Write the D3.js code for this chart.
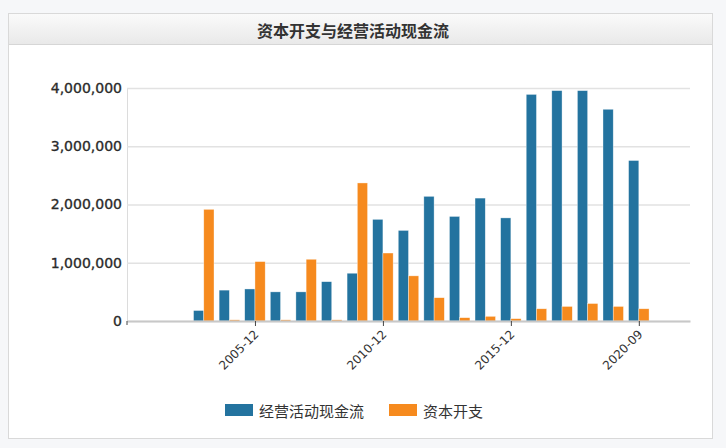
<!DOCTYPE html>
<html>
<head>
<meta charset="utf-8">
<script src="https://cdn.jsdelivr.net/npm/d3@7"></script>
<style>
  html, body { margin: 0; padding: 0; background: #f6f7f9; }
  svg { display: block; }
</style>
</head>
<body>
<div id="chart"></div>
<script>
// categories (x axis), first three years have no data
var categories = ["2000-12","2001-12","2002-12","2003-12","2004-12","2005-12","2006-12","2007-12",
  "2008-12","2009-12","2010-12","2011-12","2012-12","2013-12","2014-12","2015-12",
  "2016-12","2017-12","2018-12","2019-12","2020-09"];
var opCashFlow = [null,null,null,180000,530000,550000,500000,500000,675000,820000,
  1745000,1555000,2140000,1795000,2110000,1770000,3890000,3955000,3955000,3635000,2755000];
var capex = [null,null,null,1917000,20000,1020000,20000,1060000,20000,2370000,
  1167000,775000,400000,57000,80000,40000,210000,250000,300000,250000,210000];
var seriesNames = ["经营活动现金流", "资本开支"];
var seriesColors = ["#23739f", "#f68a1e"];
var yTicks = [0, 1000000, 2000000, 3000000, 4000000];
var labelEvery = 5;

var width = 726;
var height = 448;
var plot = {left: 127, right: 690, top: 88, bottom: 321};

function buildChart(){
  var svg = d3.select("#chart").append("svg")
      .attr("width", width)
      .attr("height", height);

  var defs = svg.append("defs");
  var grad = defs.append("linearGradient")
      .attr("id", "titleGrad")
      .attr("x1", 0).attr("y1", 0).attr("x2", 0).attr("y2", 1);
  grad.append("stop").attr("offset", "0%").attr("stop-color", "#fafafa");
  grad.append("stop").attr("offset", "100%").attr("stop-color", "#e9e9e9");

  // panel
  svg.append("rect")
      .attr("x", 8.5).attr("y", 13.5)
      .attr("width", 704).attr("height", 425)
      .attr("fill", "#fff")
      .attr("stroke", "#d9d9d9");
  svg.append("rect")
      .attr("x", 9).attr("y", 14)
      .attr("width", 703).attr("height", 30)
      .attr("fill", "url(#titleGrad)");
  svg.append("line")
      .attr("x1", 9).attr("x2", 712)
      .attr("y1", 44.5).attr("y2", 44.5)
      .attr("stroke", "#d6d6d6");
  svg.append("text")
      .attr("x", 353).attr("y", 30)
      .attr("text-anchor", "middle")
      .attr("dominant-baseline", "central")
      .style("font", "bold 16px 'Noto Sans CJK SC', sans-serif")
      .attr("fill", "#333")
      .text("资本开支与经营活动现金流");

  var x = d3.scaleLinear()
      .domain([0, categories.length + 1])
      .range([plot.left, plot.right]);
  var y = d3.scaleLinear()
      .domain([0, d3.max(yTicks)])
      .range([plot.bottom, plot.top]);
  var step = x(1) - x(0);
  var barW = step * 0.4;

  // grid + y labels
  var yAxis = d3.axisLeft(y)
      .tickValues(yTicks)
      .tickFormat(d3.format(","))
      .tickSize(-(plot.right - plot.left))
      .tickPadding(5);
  var gy = svg.append("g")
      .attr("transform", `translate(${plot.left},0)`)
      .call(yAxis);
  gy.select(".domain").attr("stroke", "#dcdcdc");
  gy.selectAll(".tick line").attr("stroke", "#e2e2e2").attr("stroke-width", 1.5);
  gy.selectAll(".tick text")
      .attr("fill", "#2b2b2b")
      .attr("stroke", "#2b2b2b")
      .attr("stroke-width", 0.35)
      .style("font", "14px 'DejaVu Sans', sans-serif");

  // bars
  var allSeries = [opCashFlow, capex];
  allSeries.forEach(function(values, s){
    svg.append("g")
        .attr("fill", seriesColors[s])
      .selectAll("rect")
      .data(values.map((v, i) => ({i: i, v: v})).filter(d => d.v != null))
      .join("rect")
        .attr("x", d => x(d.i) - barW + s * barW)
        .attr("y", d => y(d.v))
        .attr("width", barW)
        .attr("height", d => y(0) - y(d.v))
        .attr("stroke", "#fff")
        .attr("stroke-opacity", 0.6)
        .attr("stroke-width", 0.6);
  });

  // x axis
  var tickIdx = d3.range(labelEvery, categories.length, labelEvery);
  var xAxis = d3.axisBottom(x)
      .tickValues(tickIdx)
      .tickFormat(i => categories[i])
      .tickSize(5)
      .tickSizeOuter(0);
  var gx = svg.append("g")
      .attr("transform", `translate(0,${plot.bottom})`)
      .call(xAxis);
  gx.select(".domain").attr("stroke", "#c8c8c8").attr("stroke-width", 2);
  gx.selectAll(".tick line").attr("stroke", "#444");
  gx.selectAll(".tick text")
      .attr("fill", "#333")
      .style("font", "12px 'DejaVu Sans', sans-serif")
      .attr("text-anchor", "end")
      .attr("dy", null)
      .attr("y", 0)
      .attr("transform", "translate(4,14) rotate(-45)");
  svg.append("line")
      .attr("x1", plot.left).attr("x2", plot.left)
      .attr("y1", plot.bottom).attr("y2", plot.bottom + 4)
      .attr("stroke", "#444");

  // legend
  var legendX = [225, 389];
  var legend = svg.append("g")
    .selectAll("g")
    .data(seriesNames)
    .join("g")
      .attr("transform", (d, i) => `translate(${legendX[i]},404)`);
  legend.append("rect")
      .attr("width", 28).attr("height", 12)
      .attr("fill", (d, i) => seriesColors[i]);
  legend.append("text")
      .attr("x", 34).attr("y", 6)
      .attr("dominant-baseline", "central")
      .style("font", "15px 'Noto Sans CJK SC', sans-serif")
      .attr("fill", "#333")
      .text(d => d);
}

buildChart();
</script>
</body>
</html>
